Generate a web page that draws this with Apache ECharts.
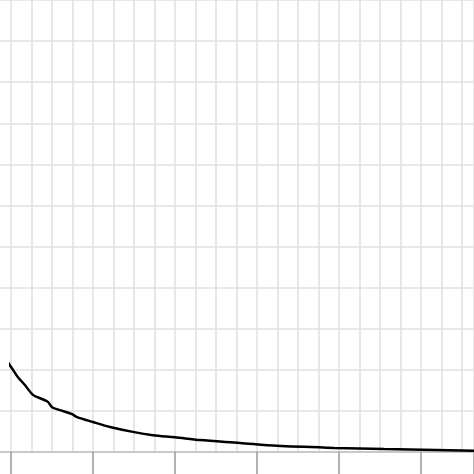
<!DOCTYPE html>
<html><head><meta charset="utf-8">
<script src="https://cdn.jsdelivr.net/npm/echarts@6/dist/echarts.min.js"></script>
<style>html,body{margin:0;padding:0;background:#fff}#c{width:474px;height:474px}</style>
</head><body><div id="c"></div>
<script>
const xValues = [-0.54,-0.39,-0.29,-0.15,0.10,0.34,0.68,1.07,1.51,1.80,2.0,2.39,2.98,3.22,4.0,4.83,5.95,6.93,8.0,9.22,11.17,12.98,15.76,18.2,22.6];
const yValues = [2.65,2.60,2.41,2.19,2.00,1.82,1.63,1.39,1.29,1.22,1.09,1.02,0.92,0.85,0.73,0.61,0.49,0.41,0.36,0.29,0.22,0.15,0.10,0.07,0.03];
const chart = echarts.init(document.getElementById('c'));
const gridStyle = {color:'#e0e0e0', width:1.5};
chart.setOption({
  animation:false,
  grid:[{left:11, right:0, top:0, bottom:22},{left:0, width:11, top:0, bottom:22}],
  xAxis:[{type:'value', min:0, max:22.585, interval:4, gridIndex:0,
    axisLine:{show:true, lineStyle:{color:'#bdbdbd', width:1.5}},
    axisTick:{show:true, length:22, lineStyle:{color:'#999', width:1.5}},
    axisLabel:{show:false},
    splitLine:{show:true, lineStyle:gridStyle},
    minorTick:{show:false, splitNumber:4},
    minorSplitLine:{show:true, lineStyle:gridStyle}},
    {type:'value', min:0, max:1, gridIndex:1, axisLine:{show:true, lineStyle:{color:'#bdbdbd', width:1.5}},
     axisTick:{show:false}, axisLabel:{show:false}, splitLine:{show:false}}],
  yAxis:[{type:'value', min:0, max:11, interval:1, gridIndex:0,
    axisLine:{show:false}, axisTick:{show:false}, axisLabel:{show:false},
    splitLine:{show:true, lineStyle:gridStyle}},
    {type:'value', min:0, max:11, interval:1, gridIndex:1,
    axisLine:{show:false}, axisTick:{show:false}, axisLabel:{show:false},
    splitLine:{show:true, lineStyle:gridStyle}}],
  series:[{type:'line', xAxisIndex:0, yAxisIndex:0, clip:false, data:xValues.map((x,i)=>[x,yValues[i]]), showSymbol:false, smooth:0.3,
    lineStyle:{color:'#000', width:2.5}}]
});
</script></body></html>
